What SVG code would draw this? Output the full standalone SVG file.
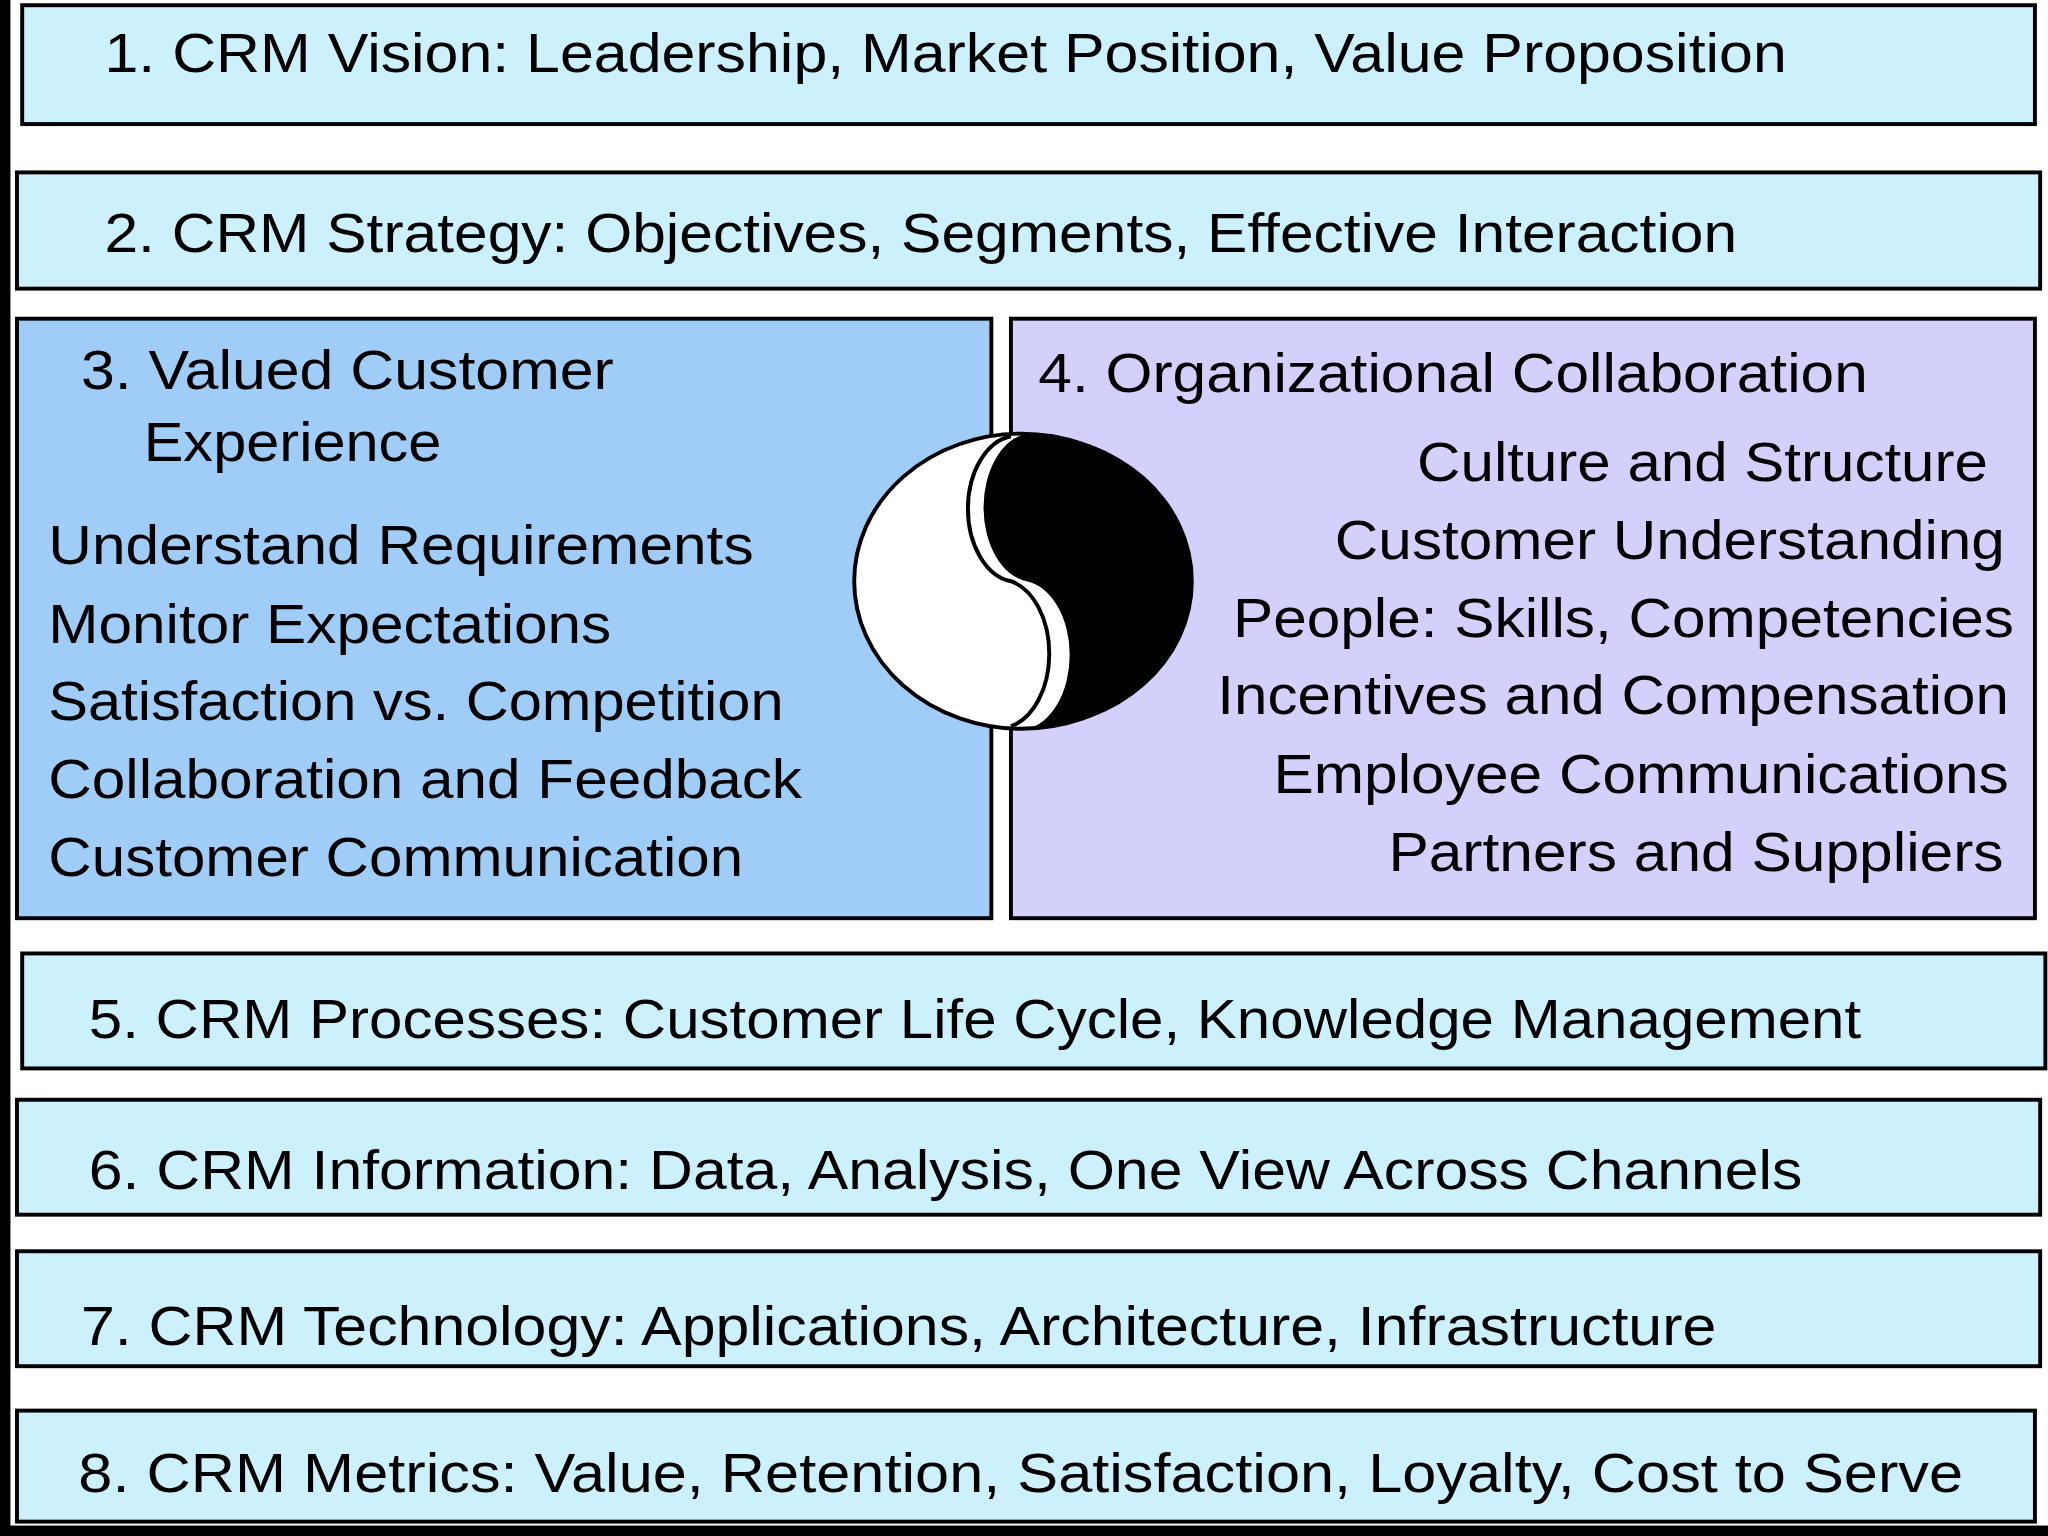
<svg xmlns="http://www.w3.org/2000/svg" width="2048" height="1536" viewBox="0 0 2048 1536">
<style>
.b{fill:#ccf0fc;stroke:#000;stroke-width:3}
text{font-family:"Liberation Sans",Arial,sans-serif;font-size:42px;fill:#000}
</style>
<rect width="2048" height="1536" fill="#fff"/>
<g transform="scale(1.30612)">
<rect x="0" y="0" width="8" height="1176" fill="#000"/>
<rect x="0" y="1168" width="1568" height="8" fill="#000"/>
<g id="n1"><rect class="b" x="17" y="4" width="1541" height="91"/><text x="80" y="55" textLength="1288" lengthAdjust="spacingAndGlyphs">1. CRM Vision: Leadership, Market Position, Value Proposition</text></g>
<g id="n2"><rect class="b" x="13" y="132" width="1549" height="89"/><text x="80" y="193" textLength="1250" lengthAdjust="spacingAndGlyphs">2. CRM Strategy: Objectives, Segments, Effective Interaction</text></g>
<g id="n3"><rect x="13" y="244" width="746" height="459" fill="#a0ccf8" stroke="#000" stroke-width="3"/>
<text x="62" y="298" textLength="408" lengthAdjust="spacingAndGlyphs">3. Valued Customer</text>
<text x="110" y="353" textLength="228" lengthAdjust="spacingAndGlyphs">Experience</text>
<text x="37" y="432" textLength="540" lengthAdjust="spacingAndGlyphs">Understand Requirements</text>
<text x="37" y="492" textLength="431" lengthAdjust="spacingAndGlyphs">Monitor Expectations</text>
<text x="37" y="551" textLength="563" lengthAdjust="spacingAndGlyphs">Satisfaction vs. Competition</text>
<text x="37" y="611" textLength="577" lengthAdjust="spacingAndGlyphs">Collaboration and Feedback</text>
<text x="37" y="671" textLength="532" lengthAdjust="spacingAndGlyphs">Customer Communication</text></g>
<g id="n4"><rect x="774" y="244" width="784" height="459" fill="#d4d0fc" stroke="#000" stroke-width="3"/>
<text x="795" y="300" textLength="635" lengthAdjust="spacingAndGlyphs">4. Organizational Collaboration</text>
<text x="1085" y="368" textLength="437" lengthAdjust="spacingAndGlyphs">Culture and Structure</text>
<text x="1022" y="428" textLength="513" lengthAdjust="spacingAndGlyphs">Customer Understanding</text>
<text x="944" y="488" textLength="598" lengthAdjust="spacingAndGlyphs">People: Skills, Competencies</text>
<text x="932" y="547" textLength="606" lengthAdjust="spacingAndGlyphs">Incentives and Compensation</text>
<text x="975" y="607" textLength="563" lengthAdjust="spacingAndGlyphs">Employee Communications</text>
<text x="1063" y="667" textLength="471" lengthAdjust="spacingAndGlyphs">Partners and Suppliers</text></g>
<g id="yinyang">
<ellipse cx="782" cy="445" rx="128" ry="113" fill="#fff" stroke="#000" stroke-width="3"/>
<path d="M786,332 A128,113 0 0 1 786,558 A38,57 0 0 0 786,445 A38,57 0 0 1 786,332 Z" fill="#000"/>
<path d="M774,334 A38,56 0 0 0 774,445 A38,57 0 0 1 774,556" fill="none" stroke="#000" stroke-width="3"/>
</g>
<g id="n5"><rect class="b" x="17" y="730" width="1549" height="88"/><text x="68" y="795" textLength="1357" lengthAdjust="spacingAndGlyphs">5. CRM Processes: Customer Life Cycle, Knowledge Management</text></g>
<g id="n6"><rect class="b" x="13" y="842" width="1549" height="88"/><text x="68" y="910" textLength="1312" lengthAdjust="spacingAndGlyphs">6. CRM Information: Data, Analysis, One View Across Channels</text></g>
<g id="n7"><rect class="b" x="13" y="958" width="1549" height="88"/><text x="62" y="1030" textLength="1252" lengthAdjust="spacingAndGlyphs">7. CRM Technology: Applications, Architecture, Infrastructure</text></g>
<g id="n8"><rect class="b" x="13" y="1080" width="1545" height="85"/><text x="60" y="1142" textLength="1443" lengthAdjust="spacingAndGlyphs">8. CRM Metrics: Value, Retention, Satisfaction, Loyalty, Cost to Serve</text></g>
<g id="connectors"/>
</g>
</svg>
